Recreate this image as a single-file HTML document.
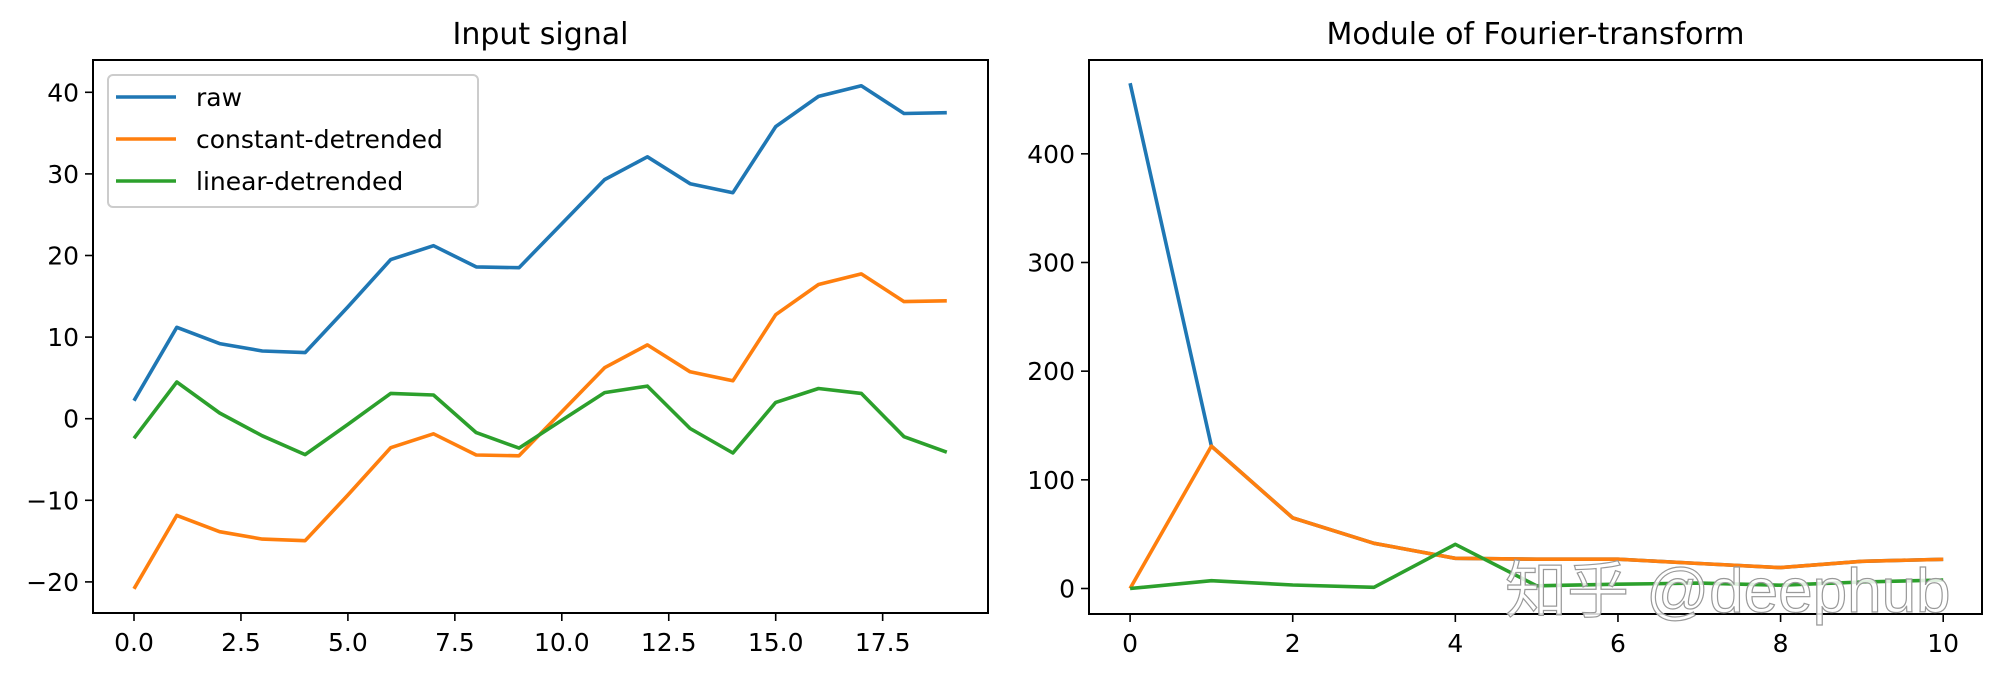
<!DOCTYPE html>
<html><head><meta charset="utf-8"><style>
html,body{margin:0;padding:0;background:#fff;}
svg{display:block;font-family:"DejaVu Sans","Liberation Sans","Noto Sans CJK SC",sans-serif;}
</style></head><body>
<svg id="fig" width="2000" height="677" viewBox="0 0 2000 677"></svg>
<script>
const leftX = [0,1,2,3,4,5,6,7,8,9,10,11,12,13,14,15,16,17,18,19];
const rawVals = [2.2,11.2,9.2,8.3,8.1,13.7,19.5,21.2,18.6,18.5,23.9,29.3,32.1,28.8,27.7,35.8,39.5,40.8,37.4,37.5];
const constVals = [-20.85,-11.85,-13.85,-14.75,-14.95,-9.35,-3.55,-1.85,-4.45,-4.55,0.85,6.25,9.05,5.75,4.65,12.75,16.45,17.75,14.35,14.45];
const linVals = [-2.4,4.5,0.7,-2.1,-4.4,-0.7,3.1,2.9,-1.7,-3.6,-0.2,3.2,4.0,-1.2,-4.2,2.0,3.7,3.1,-2.2,-4.1];
const leftXTicks = [0,2.5,5,7.5,10,12.5,15,17.5];
const leftXTickLabels = ["0.0","2.5","5.0","7.5","10.0","12.5","15.0","17.5"];
const leftYTicks = [-20,-10,0,10,20,30,40];

const rightX = [0,1,2,3,4,5,6,7,8,9,10];
const fftRaw = [465,131,65,41.6,27.8,27,27,23,19.2,25,26.9];
const fftConst = [0,131,65,41.6,27.8,27,27,23,19.2,25,26.9];
const fftLin = [0,7.2,3.2,1.1,40.7,2.5,4,5,3,6,7.8];
const rightXTicks = [0,2,4,6,8,10];
const rightYTicks = [0,100,200,300,400];

const NS = "http://www.w3.org/2000/svg";
const svg = document.getElementById('fig');
function el(tag, attrs, parent){
  const e = document.createElementNS(NS, tag);
  for (const k in attrs) e.setAttribute(k, attrs[k]);
  (parent||svg).appendChild(e);
  return e;
}
const C = {blue:"#1f77b4", orange:"#ff7f0e", green:"#2ca02c"};

// left axes
const L = {x0:93, x1:988, y0:60, y1:613};
const lx = v => 134 + v*42.78;
const ly = v => 418.7 - v*8.16;
// right axes
const R = {x0:1089, x1:1982, y0:60, y1:614};
const rx = v => 1130.1 + v*81.31;
const ry = v => 588.5 - v*1.0867;

function axes(A, name){
  const g = el('g', {});
  
  
  return g;
}
function frame(A, g){
  const r = el('rect', {x:A.x0, y:A.y0, width:A.x1-A.x0, height:A.y1-A.y0, fill:"none", stroke:"#000", "stroke-width":2}, g);
  
  
}
function line(xs, ys, fx, fy, color, name, g){
  const pts = xs.map((x,i)=>fx(x).toFixed(1)+","+fy(ys[i]).toFixed(1)).join(" ");
  const p = el('polyline', {points:pts, fill:"none", stroke:color, "stroke-width":3.6, "stroke-linejoin":"round", "stroke-linecap":"butt"}, g);
  
  
}
function xTicks(A, ticks, labels, fx, g){
  ticks.forEach((t,i)=>{
    const x = fx(t);
    const tk = el('line', {x1:x, x2:x, y1:A.y1, y2:A.y1+8, stroke:"#000", "stroke-width":1.6}, g);
    
    
    const tx = el('text', {x:x, y:A.y1+38, "font-size":25, "text-anchor":"middle", fill:"#000"}, g);
    
    
    tx.textContent = labels[i];
  });
}
function yTicks(A, ticks, fy, g){
  ticks.forEach(t=>{
    const y = fy(t);
    const tk = el('line', {x1:A.x0-8, x2:A.x0, y1:y, y2:y, stroke:"#000", "stroke-width":1.6}, g);
    
    
    const tx = el('text', {x:A.x0-14, y:y+9, "font-size":25, "text-anchor":"end", fill:"#000"}, g);
    
    
    tx.textContent = String(t).replace('-', '\u2212');
  });
}
function title(A, txt, g){
  const t = el('text', {x:(A.x0+A.x1)/2, y:44, "font-size":30, "text-anchor":"middle", fill:"#000"}, g);
  
  
  t.textContent = txt;
}

// Left
const gL = axes(L, 'input-signal-axes');
const clipL = el('clipPath', {id:'clipL'}, svg);
el('rect', {x:L.x0, y:L.y0, width:L.x1-L.x0, height:L.y1-L.y0}, clipL);
const gLd = el('g', {"clip-path":"url(#clipL)"}, gL);
line(leftX, rawVals, lx, ly, C.blue, 'raw-line', gLd);
line(leftX, constVals, lx, ly, C.orange, 'constant-detrended-line', gLd);
line(leftX, linVals, lx, ly, C.green, 'linear-detrended-line', gLd);
frame(L, gL);
xTicks(L, leftXTicks, leftXTickLabels, lx, gL);
yTicks(L, leftYTicks, ly, gL);
title(L, 'Input signal', gL);

// Legend
const lg = el('g', {}, gL);


el('rect', {x:108, y:75, width:370, height:132, rx:5, fill:"#fff", "fill-opacity":0.8, stroke:"#ccc", "stroke-width":2}, lg);
const legItems = [["raw",C.blue,97],["constant-detrended",C.orange,139],["linear-detrended",C.green,181]];
legItems.forEach(it=>{
  const e = el('g', {}, lg);
  
  
  el('line', {x1:116, x2:176, y1:it[2], y2:it[2], stroke:it[1], "stroke-width":3.6}, e);
  const t = el('text', {x:196, y:it[2]+9, "font-size":25, fill:"#000"}, e);
  t.textContent = it[0];
});

// Right
const gR = axes(R, 'fourier-module-axes');
const clipR = el('clipPath', {id:'clipR'}, svg);
el('rect', {x:R.x0, y:R.y0, width:R.x1-R.x0, height:R.y1-R.y0}, clipR);
const gRd = el('g', {"clip-path":"url(#clipR)"}, gR);
line(rightX, fftRaw, rx, ry, C.blue, 'raw-fft-line', gRd);
line(rightX, fftConst, rx, ry, C.orange, 'constant-fft-line', gRd);
line(rightX, fftLin, rx, ry, C.green, 'linear-fft-line', gRd);
frame(R, gR);
xTicks(R, rightXTicks, rightXTicks.map(String), rx, gR);
yTicks(R, rightYTicks, ry, gR);
title(R, 'Module of Fourier-transform', gR);

// watermark
const wm = el('text', {x:1505, y:612, "font-size":62, fill:"#ffffff", "fill-opacity":0.85, stroke:"#999", "stroke-width":1.2, style:"font-family:'Liberation Sans','Noto Sans CJK SC',sans-serif"}, svg);


wm.textContent = '知乎 @deephub';
</script>
</body></html>
